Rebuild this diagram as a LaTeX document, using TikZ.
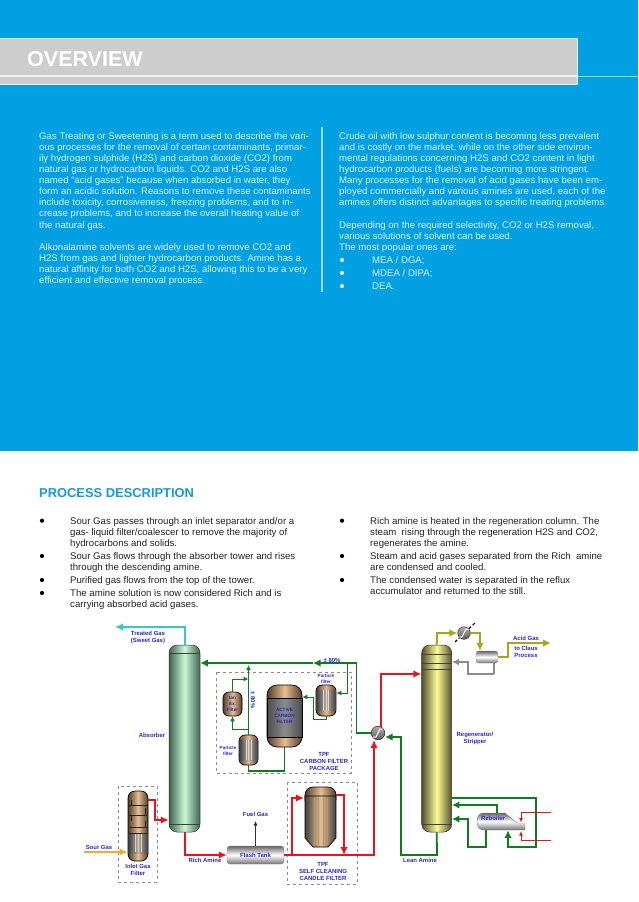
\documentclass[tikz,border=0pt]{standalone}
\usepackage{xcolor}
\usepackage{fontspec}
\setmainfont{Liberation Sans}
\usepackage{tikz}
\usetikzlibrary{arrows.meta, positioning, calc}
\definecolor{mysky}{RGB}{0,160,226}
\definecolor{mypale}{RGB}{222,243,251}
\definecolor{myband}{RGB}{205,205,205}
\definecolor{myhead}{RGB}{22,155,215}
\definecolor{myblue}{RGB}{40,40,205}
\definecolor{myink}{RGB}{35,35,35}
\definecolor{myred}{RGB}{235,20,30}
\definecolor{mygreen}{RGB}{15,125,30}
\definecolor{myolive}{RGB}{170,165,20}
\definecolor{mycyan}{RGB}{50,200,205}
\definecolor{myorange}{RGB}{245,170,40}
\definecolor{mytan}{RGB}{230,190,145}
\definecolor{mytandark}{RGB}{85,60,40}
\definecolor{absedge}{RGB}{60,100,80}
\definecolor{abslight}{RGB}{205,248,215}
\definecolor{regedge}{RGB}{80,80,45}
\definecolor{reglight}{RGB}{252,252,150}
\tikzset{
  bodytext/.style={anchor=north west, inner sep=0pt, align=left, font=\fontsize{9.62}{11.07}\selectfont},
  overtext/.style={bodytext, text=mypale},
  proctext/.style={bodytext, text=myink},
  dot/.style={circle, inner sep=0pt, minimum size=4.2pt},
  label/.style={inner sep=0pt, align=center, text=myblue, font=\fontsize{5.95}{7.3}\selectfont\bfseries},
  tinylabel/.style={label, font=\fontsize{4.6}{6}\selectfont\bfseries},
  tower/.style={draw=black!80, line width=0.5pt, inner sep=0pt, rounded corners=8pt},
  absorberbox/.style={tower, left color=absedge, right color=absedge, middle color=abslight},
  regenbox/.style={tower, left color=regedge, right color=regedge, middle color=reglight},
  tanvessel/.style={draw=black, line width=0.7pt, inner sep=0pt, left color=mytandark, right color=mytandark, middle color=mytan},
  graybody/.style={draw=black, line width=0.4pt, inner sep=0pt, left color=black!75, right color=black!75, middle color=black!30},
  drum/.style={draw=gray, line width=0.4pt, inner sep=0pt, rounded corners=3pt, top color=black!60, bottom color=black!55, middle color=white},
  hxbox/.style={circle, draw=black!80, line width=0.6pt, inner sep=0pt, minimum size=13.5pt, top color=black!30, bottom color=black!65},
  package/.style={draw=black!45, dashed, line width=0.9pt},
  redpipe/.style={color=myred, line width=2pt, -{Latex[length=8pt,width=7.5pt]}},
  greenpipe/.style={color=mygreen, line width=1.8pt, -{Latex[length=7.5pt,width=7.5pt]}},
  thingreen/.style={color=mygreen, line width=1pt, -{Latex[length=5pt,width=5pt]}},
  olivepipe/.style={color=myolive, line width=2pt, -{Latex[length=8pt,width=7.5pt]}},
  graypipe/.style={color=black!45, line width=1.6pt, -{Latex[length=7pt,width=7pt]}},
  thinred/.style={color=myred, line width=0.9pt, -{Latex[length=4.5pt,width=4pt]}}
}

\begin{document}
\begin{tikzpicture}[x=1pt, y=-1pt]
  \useasboundingbox (0,0) rectangle (638,902);

  % Page
  \fill[white] (0,0) rectangle (638,902);
  \fill[mysky] (0,0) rectangle (638,451);
  \draw[mypale!70!mysky, line width=1pt] (577,76) -- (638,76);
  \draw[fill=myband, draw=mypale, line width=0.8pt] (-2,38.5) rectangle (577,84);
  \draw[white!70!myband, line width=1.8pt] (0,76) -- (577,76);
  \node[anchor=west, inner sep=0pt, text=white, font=\fontsize{21.5}{24}\selectfont\bfseries] (overview) at (27,59.5) {OVERVIEW};
  \draw[mypale!70!mysky, line width=1.2pt] (322,127) -- (322,292);

  % Overview text
  \node[overtext] (ovleft) at (39,132.3) {Gas Treating or Sweetening is a term used to describe the vari-\\
ous processes for the removal of certain contaminants, primar-\\
ily hydrogen sulphide (H2S) and carbon dioxide (CO2) from\\
natural gas or hydrocarbon liquids. CO2 and H2S are also\\
named “acid gases” because when absorbed in water, they\\
form an acidic solution. Reasons to remove these contaminants\\
include toxicity, corrosiveness, freezing problems, and to in-\\
crease problems, and to increase the overall heating value of\\
the natural gas.\\[11.07pt]
Alkonalamine solvents are widely used to remove CO2 and\\
H2S from gas and lighter hydrocarbon products. Amine has a\\
natural affinity for both CO2 and H2S, allowing this to be a very\\
efficient and effective removal process.};
  \node[overtext] (ovright) at (339,132.3) {Crude oil with low sulphur content is becoming less prevalent\\
and is costly on the market, while on the other side environ-\\
mental regulations concerning H2S and CO2 content in light\\
hydrocarbon products (fuels) are becoming more stringent.\\
Many processes for the removal of acid gases have been em-\\
ployed commercially and various amines are used, each of the\\
amines offers distinct advantages to specific treating problems.\\[11.07pt]
Depending on the required selectivity, CO2 or H2S removal,\\
various solutions of solvent can be used.\\
The most popular ones are:};
  \node[dot, fill=mypale] (ovdot1) at (342,260) {};
  \node[dot, fill=mypale] (ovdot2) at (342,273) {};
  \node[dot, fill=mypale] (ovdot3) at (342,286) {};
  \node[overtext] (ovitem1) at (372,256.3) {MEA / DGA;};
  \node[overtext] (ovitem2) at (372,269.3) {MDEA / DIPA;};
  \node[overtext] (ovitem3) at (372,282.3) {DEA.};

  % Process text
  \node[anchor=west, inner sep=0pt, text=myhead, font=\fontsize{12.9}{14}\selectfont\bfseries] (prochead) at (39,493) {PROCESS DESCRIPTION};
  \node[dot, fill=black] (pldot1) at (42,520.7) {};
  \node[dot, fill=black] (pldot2) at (42,556) {};
  \node[dot, fill=black] (pldot3) at (42,580) {};
  \node[dot, fill=black] (pldot4) at (42,593) {};
  \node[proctext] (pl1) at (70,517) {Sour Gas passes through an inlet separator and/or a\\
gas- liquid filter/coalescer to remove the majority of\\
hydrocarbons and solids.};
  \node[proctext] (pl2) at (70,552.3) {Sour Gas flows through the absorber tower and rises\\
through the descending amine.};
  \node[proctext] (pl3) at (70,576.3) {Purified gas flows from the top of the tower.};
  \node[proctext] (pl4) at (70,589.3) {The amine solution is now considered Rich and is\\
carrying absorbed acid gases.};
  \node[dot, fill=black] (prdot1) at (342,520.7) {};
  \node[dot, fill=black] (prdot2) at (342,556) {};
  \node[dot, fill=black] (prdot3) at (342,580) {};
  \node[proctext] (pr1) at (370,517) {Rich amine is heated in the regeneration column. The\\
steam\ \ rising through the regeneration H2S and CO2,\\
regenerates the amine.};
  \node[proctext] (pr2) at (370,552.3) {Steam and acid gases separated from the Rich\ \ amine\\
are condensed and cooled.};
  \node[proctext] (pr3) at (370,576.3) {The condensed water is separated in the reflux\\
accumulator and returned to the still.};

  % Packages
  \draw[package] (216,672) rectangle (351,773);
  \draw[package] (118,786) rectangle (157,882);
  \draw[package] (287,782) rectangle (357,884);

  % Columns
  \node[absorberbox, minimum width=31pt, minimum height=187pt] (absorber) at (184.5,738.5) {};
  \draw[black!75, line width=0.4pt] (169,653) -- (200,653) (169,824) -- (200,824);
  \node[regenbox, minimum width=30pt, minimum height=187pt] (regen) at (436.7,738.5) {};
  \draw[black!75, line width=0.4pt] (421.7,654) -- (451.7,654) (421.7,663) -- (451.7,663) (421.7,669) -- (451.7,669) (421.7,824) -- (451.7,824);

  % Inlet filter
  \node[tanvessel, rounded corners=7pt, minimum width=20pt, minimum height=70pt] (inlet) at (138,826) {};
  \node[graybody, draw=none, minimum width=19pt, minimum height=20pt] (inletbody) at (138,843) {};
  \foreach \ty in {805,815,827,833}
    \draw[black!85, line width=0.6pt] (128,\ty) -- (148,\ty);
  \draw[black!85, line width=0.6pt] (131,800) -- (131,805) (145,808) -- (145,815) (131,816) -- (131,821) (145,821) -- (145,827);
  \foreach \sx in {135,138,141}
    \draw[mytan!80!white, line width=0.8pt] (\sx,834) -- (\sx,852);

  % Carbon filter package
  \node[tanvessel, rounded corners=10pt, minimum width=35pt, minimum height=62pt] (carbon) at (284.5,716) {};
  \node[graybody, minimum width=35pt, minimum height=39pt, left color=black!70, right color=black!70, middle color=black!45] (carbonbody) at (284.5,717.5) {};
  \node[tanvessel, rounded corners=6pt, minimum width=20pt, minimum height=31pt] (ptop) at (326,700.5) {};
  \node[graybody, draw=none, minimum width=19pt, minimum height=20pt] (ptopbody) at (326,700.5) {};
  \node[tanvessel, rounded corners=6pt, minimum width=19pt, minimum height=24pt] (ionex) at (232.5,704) {};
  \node[tanvessel, rounded corners=6pt, minimum width=19pt, minimum height=30pt] (plow) at (248.5,750) {};
  \node[graybody, draw=none, minimum width=18pt, minimum height=20pt] (plowbody) at (248.5,750) {};
  \foreach \sx in {-2.5,0,2.5} {
    \draw[mytan!70!white, line width=0.7pt] ([xshift=\sx pt]ptopbody.north) -- ([xshift=\sx pt]ptopbody.south);
    \draw[mytan!70!white, line width=0.7pt] ([xshift=\sx pt]plowbody.north) -- ([xshift=\sx pt]plowbody.south);
  }

  % Candle filter
  \node[tanvessel, rounded corners=8pt, minimum width=31pt, minimum height=20pt] (candletop) at (320.5,797) {};
  \draw[black, line width=0.7pt, left color=black!75, right color=black!75, middle color=mytan] (305,796) -- (305,838) -- (313,847) -- (328,847) -- (336,838) -- (336,796) -- cycle;
  \node[inner sep=0pt, minimum width=31pt, minimum height=60pt] (candle) at (320.5,817) {};
  \foreach \sx in {314,318,323,327}
    \draw[black!20!mytan, line width=0.4pt] (\sx,798) -- (\sx,845);

  % Flash tank, accumulator, reboiler
  \node[drum, minimum width=57pt, minimum height=18pt] (flash) at (255.5,855) {};
  \node[drum, minimum width=22pt, minimum height=12pt] (accum) at (487,657) {};
  \draw[gray, line width=0.4pt, top color=black!60, bottom color=black!55, middle color=white] (477,821.5) .. controls (477,815) and (480,813) .. (484,813) -- (505,813) -- (517,823) -- (525,823) -- (525,830) -- (484,830) .. controls (480,830) and (477,828) .. (477,821.5) -- cycle;
  \node[inner sep=0pt, minimum width=48pt, minimum height=17pt] (reboiler) at (501,821.5) {};

  % Exchangers
  \node[hxbox] (hx) at (378,733) {};
  \node[hxbox, minimum size=12.5pt] (cond) at (464,633) {};
  \draw[white, line width=1pt] (373,737) -- (376,737) -- (380,729) -- (383,729);
  \draw[white, line width=1pt] (459,637) -- (462,637) -- (466,629) -- (469,629);
  \coordinate (condin) at (455,642);
  \coordinate (condout) at (475,623);
  \draw[black, densely dashed, line width=1.1pt] (condin) -- (cond);
  \draw[black, densely dashed, line width=1.1pt] (cond) -- (condout);

  % Gas and amine lines
  \coordinate (treated) at (115,627);
  \draw[color=mycyan, line width=2pt, -{Latex[length=8pt,width=7.5pt]}] (absorber.north) |- (treated);
  \coordinate (sour) at (84,852);
  \draw[color=myorange, line width=1.6pt, -{Latex[length=8pt,width=7.5pt]}] (sour) -- (sour -| inlet.west);
  \coordinate (inletout) at (148,800);
  \coordinate (absin) at (155,820);
  \draw[redpipe] (inletout) -| (absin) -- (absin -| absorber.west);
  \draw[redpipe] (absorber.south) |- (flash.west);
  \coordinate (fuel) at (255.5,821);
  \draw[black!80, line width=0.7pt, -{Latex[length=4.5pt,width=4pt]}] (flash.north) -- (fuel);

  \coordinate (richup) at (374,855);
  \draw[redpipe] (flash.east) -- (richup) -- (richup |- hx.south);
  \coordinate (candlein) at (292,855);
  \draw[redpipe] (candlein) |- (304,798);
  \coordinate (candleout) at (336,795);
  \draw[redpipe] (candleout) -| (344,855);
  \coordinate (regenin) at (381,674);
  \draw[redpipe] (381,727) -- (regenin) -- (regenin -| regen.west);

  \coordinate (leandown) at (437,855);
  \coordinate (leanup) at (401,737);
  \draw[greenpipe] (regen.south) -- (leandown) -| (leanup) -- (hx.east |- leanup);
  \coordinate (mainbend) at (356.5,663);
  \coordinate (mainmid) at (313,663);
  \draw[greenpipe] (hx.west) -| (mainbend) -- (mainmid);
  \draw[greenpipe] (mainmid) -- (mainmid -| absorber.east);

  % Carbon package lines
  \coordinate (bleed) at (347,663);
  \draw[thingreen] (bleed) |- (ptop.east |- 0,693);
  \coordinate (ptopout) at (313,719);
  \draw[thingreen] (ptop.south) |- (ptopout) |- (carbon.east |- 0,697);
  \draw[color=mygreen, line width=1.1pt] (carbon.south) |- (248.5,771) -- (plow.south);
  \coordinate (plowtop) at (248.5,665);
  \draw[thingreen] (plow.north) -- (plowtop);
  \coordinate (iontap) at (248.5,729);
  \draw[thingreen] (iontap) -| (ionex.south);
  \coordinate (ionret) at (248.5,679);
  \draw[thingreen] (ionex.north) |- (ionret);

  % Overhead lines
  \coordinate (ovhd) at (437,633);
  \draw[olivepipe] (regen.north) -- (ovhd) -- (cond.west);
  \coordinate (ovdown) at (480,633);
  \draw[olivepipe] (cond.east) -- (ovdown) -- (ovdown |- accum.north);
  \coordinate (claus) at (551,643);
  \coordinate (clausup) at (508,657);
  \draw[olivepipe] (accum.east) -- (clausup) |- (claus);
  \coordinate (reflux) at (494,674);
  \draw[graypipe, -] (accum.south -| reflux) -- (reflux);
  \draw[graypipe] (reflux) -| (468,662) -- (regen.east |- 0,662);

  % Reboiler lines
  \coordinate (rebout) at (452,798);
  \coordinate (rebcorner) at (536,847);
  \draw[greenpipe] (rebout) -| (rebcorner) -| (508,830.5);
  \draw[greenpipe] (497,813) |- (regen.east |- 0,805);
  \draw[greenpipe] (486,830) |- (468,847) |- (regen.east |- 0,819);
  \coordinate (steamin) at (551,812);
  \coordinate (steamout) at (551,840);
  \draw[thinred] (steamin) -| (521,822.5);
  \draw[thinred] (steamout) -| (521,831);

  % Labels
  \node[label] (treatedlab) at (148,637.5) {Treated Gas\\(Sweet Gas)};
  \node[label] (absorberlab) at (152,735) {Absorber};
  \node[label] (regenlab) at (475,738.5) {Regenerator/\\Stripper};
  \node[label] (acidlab) at (526,638) {Acid Gas};
  \node[label] (clauslab) at (526,652) {to Claus\\Process};
  \node[label] (reboilerlab) at (493,818) {Reboiler};
  \node[label] (leanlab) at (420,860.5) {Lean Amine};
  \node[label] (richlab) at (205,860.5) {Rich Amine};
  \node[label] (flashlab) at (255.5,855) {Flash Tank};
  \node[label] (fuellab) at (255.5,814) {Fuel Gas};
  \node[label] (sourlab) at (99,847.5) {Sour Gas};
  \node[label] (inletlab) at (138,870) {Inlet Gas\\Filter};
  \node[label] (candlelab) at (323,871.5) {TPF\\SELF CLEANING\\CANDLE FILTER};
  \node[label] (carbonlab) at (324,761.5) {TPF\\CARBON FILTER\\PACKAGE};
  \node[label] (mainlab) at (332,660) {± 80\%};
  \node[label, rotate=-90] (sidelab) at (253,700) {± 80\%};
  \node[tinylabel] (activelab) at (284.5,716) {ACTIVE\\CARBON\\FILTER};
  \node[tinylabel] (ptoplab) at (326,679) {Particle\\filter};
  \node[tinylabel] (plowlab) at (228,750.5) {Particle\\filter};
  \node[tinylabel] (ionlab) at (232.5,704) {Ion\\Ex.\\Filter};

\end{tikzpicture}
\end{document}
